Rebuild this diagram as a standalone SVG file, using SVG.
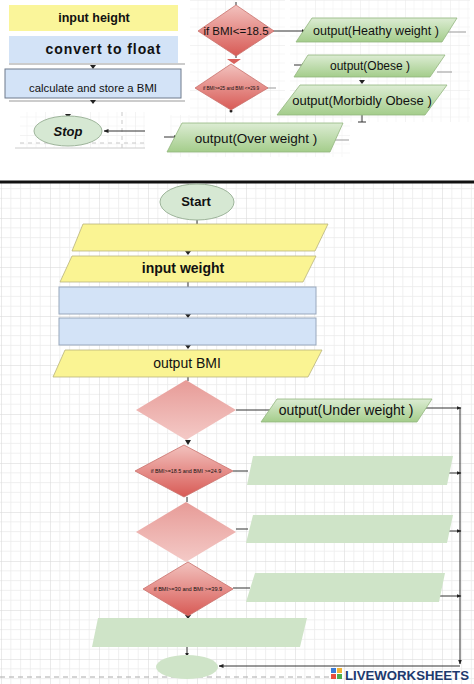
<svg xmlns="http://www.w3.org/2000/svg" width="474" height="684" viewBox="0 0 474 684">
<defs>
<pattern id="grid" x="1" y="218" width="49" height="49" patternUnits="userSpaceOnUse">
<path d="M9.8 0V49M19.6 0V49M29.4 0V49M39.2 0V49M0 9.8H49M0 19.6H49M0 29.4H49M0 39.2H49" stroke="#ececec" stroke-width="0.8" fill="none"/>
<path d="M0 0V49M0 0H49" stroke="#d6d6d6" stroke-width="1" fill="none"/>
</pattern>
<pattern id="gridT" x="0" y="0" width="45" height="45" patternUnits="userSpaceOnUse">
<path d="M9 0V45M18 0V45M27 0V45M36 0V45M0 9H45M0 18H45M0 27H45M0 36H45" stroke="#f0f0f0" stroke-width="0.8" fill="none"/>
<path d="M0 0V45M0 0H45" stroke="#dedede" stroke-width="1" fill="none"/>
</pattern>
<linearGradient id="redG" x1="0" y1="0" x2="0" y2="1">
<stop offset="0" stop-color="#f2c2be"/>
<stop offset="1" stop-color="#d85a55"/>
</linearGradient>
<linearGradient id="pinkG" x1="0" y1="0" x2="0" y2="1">
<stop offset="0" stop-color="#e79b97"/>
<stop offset="1" stop-color="#f4cac7"/>
</linearGradient>
<linearGradient id="greenG" x1="0" y1="0" x2="0" y2="1">
<stop offset="0" stop-color="#dcecd3"/>
<stop offset="1" stop-color="#a4cd8b"/>
</linearGradient>
<marker id="ah" viewBox="0 0 10 10" refX="9" refY="5" markerWidth="5" markerHeight="5" orient="auto">
<path d="M0 1L10 5L0 9z" fill="#222"/>
</marker>
</defs>
<style>
.t{font-family:"Liberation Sans",Arial,sans-serif;fill:#111;text-anchor:middle}
.b{font-weight:bold}
.yel{fill:#faf493;stroke:#b9b47c;stroke-width:0.8}
.blu{fill:#d3e3f7;stroke:#98a7bc;stroke-width:1}
.grn{fill:#cfe4c8}
.gT{fill:url(#greenG);stroke:#93b67f;stroke-width:0.8}
.red{fill:url(#redG);stroke:#c9716c;stroke-width:0.8}
.pink{fill:url(#pinkG)}
.ell{fill:#d6e8d3;stroke:#9db49a;stroke-width:1}
.c{stroke:#333;stroke-width:1;fill:none}
.ca{stroke:#333;stroke-width:1;fill:none;marker-end:url(#ah)}
.lg{stroke:#999;stroke-width:1;fill:none}
</style>
<rect width="474" height="684" fill="#fff"/>
<!-- faint grid fragments, top -->
<rect x="190" y="0" width="95" height="120" fill="url(#gridT)" opacity="0.7"/>
<rect x="290" y="0" width="180" height="122" fill="url(#gridT)" opacity="0.7"/>
<rect x="20" y="112" width="125" height="36" fill="url(#gridT)" opacity="0.7"/>
<rect x="170" y="115" width="180" height="42" fill="url(#gridT)" opacity="0.6"/>
<path d="M20 143H145M122 112V150" stroke="#bbb" stroke-width="0.8" stroke-dasharray="4 4" fill="none"/>
<path d="M15 148H145" stroke="#ccc" stroke-width="1"/>
<!-- bottom grid -->
<rect x="0" y="183" width="474" height="501" fill="url(#grid)"/>
<rect x="0" y="180.5" width="474" height="3" fill="#111"/>
<path d="M0 677H330" stroke="#aaa" stroke-width="1" stroke-dasharray="5 4"/>

<g id="connectors">
<path class="lg" d="M9 64H185M9 101H185"/>
<path d="M90 65L96 65L93 69z M90 100L96 100L93 104z M65 114L71 114L68 118z" fill="#222"/>
<path class="ca" d="M145 131H104"/>
<path class="c" d="M236 2V5M236 55V58"/>
<path class="ca" d="M273 31H306"/>
<path class="lg" d="M443 32H466"/>
<path class="ca" d="M294 65H306"/>
<path class="lg" d="M437 72H452"/>
<path d="M359 80L365 80L362 84z" fill="#222"/>
<path class="c" d="M362 115V122M358 122H366"/>
<path class="lg" d="M330 140H349"/>
<path class="ca" d="M164 137H178"/>
<path class="lg" d="M267 88H276"/>
<circle cx="231" cy="111" r="1.5" fill="#222"/>
<!-- bottom -->
<path class="c" d="M197 220V224M188 282V287M188 377V381"/>
<path d="M185 251L191 251L188 255z M185 314L191 314L188 318z M185 345L191 345L188 349z" fill="#222"/>
<path class="ca" d="M236 410H277"/>
<path class="ca" d="M425 408H461"/>
<path class="ca" d="M460 408V664"/>
<path d="M185 440L191 440L188 445z" fill="#222"/>
<path class="c" d="M233 471H248"/>
<path class="ca" d="M447 473H461"/>
<path class="c" d="M187 497V502"/>
<path class="c" d="M236 529H248"/>
<path class="ca" d="M447 531H461"/>
<path class="c" d="M233 588H250"/>
<path class="ca" d="M440 596H461"/>
<path d="M185 615L191 615L188 619z" fill="#222"/>
<path class="ca" d="M187 647V657"/>
<path class="ca" d="M460 666H219"/>
</g>

<g id="input-height">
<rect x="9" y="5" width="169" height="26" fill="#faf59a"/>
<text class="t b" x="94" y="22" font-size="12.5">input height</text>
</g>
<g id="convert-to-float">
<rect x="9" y="36" width="169" height="27" fill="#d3e3f7"/>
<text class="t b" x="103" y="54" font-size="14" textLength="115" lengthAdjust="spacing">convert to float</text>
</g>
<g id="calculate-bmi">
<rect x="5" y="69" width="176" height="29" fill="#d3e3f7" stroke="#6f7b8c" stroke-width="1"/>
<text class="t" x="93" y="92" font-size="10.5" font-family="DejaVu Sans" textLength="128" lengthAdjust="spacingAndGlyphs">calculate and store a BMI</text>
</g>
<g id="stop">
<ellipse class="ell" cx="68" cy="131" rx="34" ry="15"/>
<text class="t b" x="68" y="136" font-size="13" font-style="italic">Stop</text>
</g>
<g id="if-bmi-18">
<polygon class="red" points="236,5 274,31 236,56 198,31"/>
<text class="t" x="236" y="35" font-size="11.5">if BMI&lt;=18.5</text>
</g>
<g id="small-triangle">
<polygon points="227,59 241,59 234,64" fill="#d9605b"/>
</g>
<g id="if-bmi-25">
<polygon class="red" points="231,64 268,88 231,110 195,88"/>
<text class="t" x="231" y="89.5" font-size="4.6">if BMI&gt;=25 and BMI &lt;=29.9</text>
</g>
<g id="out-healthy">
<polygon class="gT" points="312,18 457,18 442,42 296,42"/>
<text class="t" x="376" y="35" font-size="12.5">output(Heathy weight )</text>
</g>
<g id="out-obese">
<polygon class="gT" points="308,55 445,55 430,77 294,77"/>
<text class="t" x="370" y="70" font-size="12">output(Obese )</text>
</g>
<g id="out-morbid">
<polygon class="gT" points="300,85 447,85 425,115 277,115"/>
<text class="t" x="362" y="105" font-size="13">output(Morbidly Obese )</text>
</g>
<g id="out-over">
<polygon class="gT" points="182,123 343,123 330,152 167,152"/>
<text class="t" x="256" y="143" font-size="13.5">output(Over weight )</text>
</g>

<g id="start">
<ellipse class="ell" cx="197" cy="202" rx="37" ry="18"/>
<text class="t b" x="196" y="206" font-size="13">Start</text>
</g>
<g id="para1">
<polygon class="yel" points="83,224 328,224 315,251 72,251"/>
</g>
<g id="input-weight">
<polygon class="yel" points="72,256 316,256 303,282 60,282"/>
<text class="t b" x="183" y="273" font-size="14">input weight</text>
</g>
<g id="rect1"><rect class="blu" x="59" y="287" width="257" height="27"/></g>
<g id="rect2"><rect class="blu" x="59" y="318" width="257" height="27"/></g>
<g id="output-bmi">
<polygon class="yel" points="65,350 322,350 308,377 53,377"/>
<text class="t" x="187" y="368" font-size="14">output BMI</text>
</g>
<g id="dec1"><polygon class="pink" points="186,380 236,410 186,440 136,410"/></g>
<g id="out-under">
<polygon class="gT" points="277,399 432,399 417,422 261,422"/>
<text class="t" x="346" y="415" font-size="14">output(Under weight )</text>
</g>
<g id="dec2">
<polygon class="red" points="184,445 233,471 184,497 135,471"/>
<text class="t" x="186" y="473" font-size="5.4">if BMI&gt;=18.5 and BMI &gt;=24.9</text>
</g>
<g id="out2"><polygon class="grn" points="253,456 453,456 447,485 247,485"/></g>
<g id="dec3"><polygon class="pink" points="186,502 236,532 186,562 136,532"/></g>
<g id="out3"><polygon class="grn" points="253,515 453,515 447,543 246,543"/></g>
<g id="dec4">
<polygon class="red" points="188,562 233,589 188,616 143,589"/>
<text class="t" x="188" y="591" font-size="5.6">if BMI&gt;=30 and BMI &gt;=39.9</text>
</g>
<g id="out4"><polygon class="grn" points="255,573 445,573 439,602 246,602"/></g>
<g id="out5"><polygon class="grn" points="98,618 307,618 300,647 92,647"/></g>
<g id="end"><ellipse cx="187" cy="667" rx="31" ry="12" fill="#cfe4c8"/></g>

<g id="watermark">
<rect x="331" y="668" width="5" height="5" fill="#3a7bd5"/>
<rect x="337" y="668" width="5" height="5" fill="#f2b233"/>
<rect x="331" y="674" width="5" height="5" fill="#e94e3c"/>
<rect x="337" y="674" width="5" height="5" fill="#4cae4c"/>
<text x="345" y="680" font-family="Liberation Sans,Arial,sans-serif" font-weight="bold" font-size="13.5" fill="#1d3a6e" textLength="124" lengthAdjust="spacingAndGlyphs">LIVEWORKSHEETS</text>
</g>
</svg>
